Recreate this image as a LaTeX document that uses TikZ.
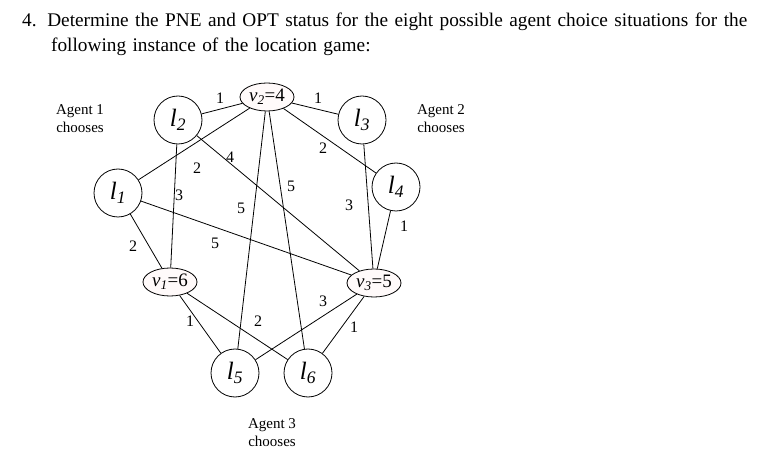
\documentclass[tikz,border=0pt]{standalone}
\usepackage{fontspec}
\setmainfont{Liberation Serif}
\usetikzlibrary{shapes.geometric}
\newcommand{\lv}[2]{\textit{#1}\textsubscript{\textit{#2}}}
\begin{document}
\begin{tikzpicture}[
   x=1pt,y=-1pt,
   loc/.style={draw,thick,circle,minimum size=48pt,inner sep=0pt,font=\fontsize{25}{25}\selectfont},
   vtx/.style={draw,thick,ellipse,fill=red!2,minimum width=54pt,minimum height=28pt,inner sep=0pt,font=\fontsize{19}{19}\selectfont},
   lbl/.style={font=\fontsize{16}{16}\selectfont,inner sep=0pt},
   agent/.style={align=center,font=\fontsize{15}{18}\selectfont},
   link/.style={thick}]
\useasboundingbox (0,0) rectangle (782,462);
\node[anchor=west,font=\fontsize{19.3}{25}\selectfont,text width=770pt,align=left,inner sep=0pt] (title) at (22,34)
  {4.\hspace{0.55em}Determine the PNE and OPT status for the eight possible agent choice situations for the\\
   \hspace{1.5em}following instance of the location game:};
\node[loc] (l2) at (178,120) {\lv{l}{2}};
\node[loc] (l3) at (362,120) {\lv{l}{3}};
\node[loc] (l1) at (118,193) {\lv{l}{1}};
\node[loc] (l4) at (396,187) {\lv{l}{4}};
\node[loc] (l5) at (235,373) {\lv{l}{5}};
\node[loc] (l6) at (308,373) {\lv{l}{6}};
\node[vtx] (v2) at (267,97) {\lv{v}{2}=4};
\node[vtx] (v1) at (170,282) {\lv{v}{1}=6};
\node[vtx] (v3) at (374,283) {\lv{v}{3}=5};
\draw[link] (l2) -- (v2);
\draw[link] (v2) -- (l3);
\draw[link] (v2) -- (l1);
\draw[link] (l2) -- (v3);
\draw[link] (v2) -- (l4);
\draw[link] (v2) -- (l5);
\draw[link] (v2) -- (l6);
\draw[link] (l2) -- (v1);
\draw[link] (l3) -- (v3);
\draw[link] (l4) -- (v3);
\draw[link] (l1) -- (v1);
\draw[link] (l1) -- (v3);
\draw[link] (v1) -- (l5);
\draw[link] (v1) -- (l6);
\draw[link] (v3) -- (l5);
\draw[link] (v3) -- (l6);
% weights
\node[lbl] (w1) at (220,98) {1};
\node[lbl] (w2) at (318,98) {1};
\node[lbl] (w3) at (197,168) {2};
\node[lbl] (w4) at (230,157) {4};
\node[lbl] (w5) at (323,148) {2};
\node[lbl] (w6) at (179,195) {3};
\node[lbl] (w7) at (241,208) {5};
\node[lbl] (w8) at (291,186) {5};
\node[lbl] (w9) at (349,205) {3};
\node[lbl] (w10) at (404,226) {1};
\node[lbl] (w11) at (133,246) {2};
\node[lbl] (w12) at (215,243) {5};
\node[lbl] (w13) at (190,321) {1};
\node[lbl] (w14) at (258,321) {2};
\node[lbl] (w15) at (323,301) {3};
\node[lbl] (w16) at (354,327) {1};
\node[agent] (a1) at (80,119) {Agent 1\\chooses};
\node[agent] (a2) at (441,119) {Agent 2\\chooses};
\node[agent] (a3) at (272,433) {Agent 3\\chooses};
\end{tikzpicture}
\end{document}
